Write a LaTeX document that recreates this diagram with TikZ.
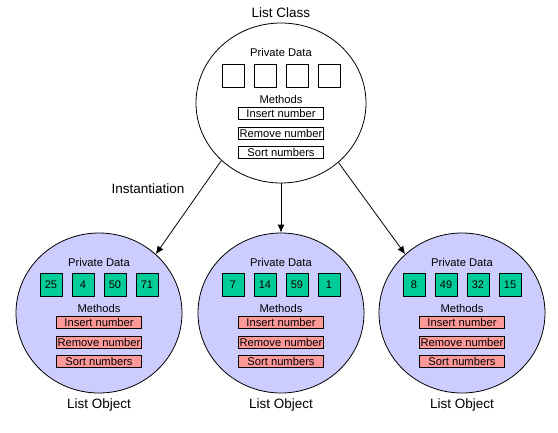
\documentclass[tikz,border=0pt]{standalone}
\usepackage{fontspec}
\setmainfont{Liberation Sans}
\usetikzlibrary{arrows.meta,positioning,calc,shapes.geometric}
\tikzset{>={Latex[length=8pt,width=7pt]}}
\definecolor{objfill}{HTML}{CCCCFF}
\definecolor{datafill}{HTML}{00CC99}
\definecolor{methfill}{HTML}{FF9999}
\tikzset{
  obj/.style={draw,ellipse,line width=0.8pt,minimum width=166pt,minimum height=160pt,inner sep=0pt},
  databox/.style={draw,line width=0.8pt,minimum width=22pt,minimum height=23pt,inner sep=0pt,font=\fontsize{11}{12}\selectfont},
  methodbox/.style={draw,line width=0.8pt,minimum width=85pt,minimum height=12pt,inner sep=0pt,font=\fontsize{11.2}{12}\selectfont},
  small/.style={font=\fontsize{11.2}{12}\selectfont},
  big/.style={font=\fontsize{13.5}{15}\selectfont}
}

\begin{document}
\begin{tikzpicture}[x=1pt,y=-1pt]
        \useasboundingbox (0,0) rectangle (558,432);

        % class
        \node [obj,minimum width=170pt] (cls) at (281,103) {};
        \node [big] (clsname) at (281,13) {List Class};
        \node [small] (clspd) at (281,52) {Private Data};
        \node [databox] (c1) at (233,75.5) {};
        \node [databox] (c2) at (265,75.5) {};
        \node [databox] (c3) at (297,75.5) {};
        \node [databox] (c4) at (329,75.5) {};
        \node [small] (clsm) at (281,99) {Methods};
        \node [methodbox] (clsins) at (281,113.5) {Insert number};
        \node [methodbox] (clsrem) at (281,133.5) {Remove number};
        \node [methodbox] (clssrt) at (281,152.5) {Sort numbers};

        % objects
        \foreach \n/\x/\a/\b/\c/\d in {A/99/25/4/50/71, B/281/7/14/59/1, C/462/8/49/32/15} {
            \node [obj,fill=objfill] (obj\n) at (\x,313) {};
            \node [big] (name\n) at (\x,405) {List Object};
            \node [small] (pd\n) at (\x,262) {Private Data};
            \node [databox,fill=datafill] (\n1) at (\x-48,284.5) {\a};
            \node [databox,fill=datafill] (\n2) at (\x-16,284.5) {\b};
            \node [databox,fill=datafill] (\n3) at (\x+16,284.5) {\c};
            \node [databox,fill=datafill] (\n4) at (\x+48,284.5) {\d};
            \node [small] (m\n) at (\x,308) {Methods};
            \node [methodbox,fill=methfill] (ins\n) at (\x,322.5) {Insert number};
            \node [methodbox,fill=methfill] (rem\n) at (\x,342.5) {Remove number};
            \node [methodbox,fill=methfill] (srt\n) at (\x,361) {Sort numbers};
        }

        \node [big] (inst) at (148,189) {Instantiation};

        % arrows
        \draw [->,line width=0.8pt] (cls.224) -- (objA.46);
        \draw [->,line width=0.8pt] (cls.south) -- (objB.north);
        \draw [->,line width=0.8pt] (cls.-46) -- (objC.134);

\end{tikzpicture}
\end{document}
